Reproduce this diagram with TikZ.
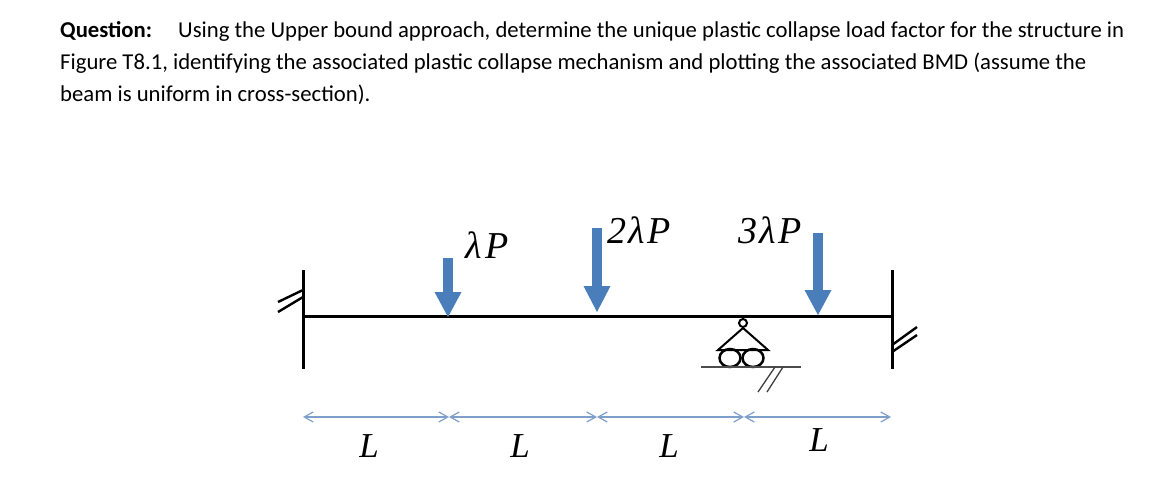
\documentclass[tikz,border=0pt]{standalone}
\usepackage{fontspec}
\setmainfont{Carlito}
\newfontfamily\figfont{Liberation Serif}
\usetikzlibrary{arrows.meta,shapes.geometric}
\definecolor{loadblue}{HTML}{4A7EBB}
\definecolor{dimblue}{HTML}{7F9FCB}
\tikzset{
  x=1pt,y=-1pt,
  qtext/.style={anchor=base west,inner sep=0pt,font=\fontsize{22.7}{27}\selectfont,text=black},
  figlabel/.style={inner sep=0pt,font=\figfont\itshape\fontsize{35}{40}\selectfont},
  loadlabel/.style={inner sep=0pt,anchor=base west,font=\figfont\itshape\fontsize{38}{42}\selectfont},
  beam/.style={line width=3.2pt,black},
  wall/.style={line width=3pt,black},
  wallhatch/.style={line width=2.4pt,black},
  load/.style={draw=none,fill=loadblue},
  dimline/.style={draw=dimblue,line width=1.2pt,{Straight Barb[length=9pt,width=10pt]}-{Straight Barb[length=9pt,width=10pt]}},
  supportline/.style={line width=2pt,black},
  groundline/.style={line width=2pt,black!70},
  groundhatch/.style={line width=1.3pt,black!75},
  roller/.style={draw,ellipse,line width=2.5pt,minimum width=21pt,minimum height=18pt,inner sep=0pt}
}
\newcommand{\loadarrow}[4]{%
  \fill[load] (#1-4.8,#2) -- (#1+4.8,#2) -- (#1+4.8,#3) -- (#1+13.5,#3) -- (#1,#4) -- (#1-13.5,#3) -- (#1-4.8,#3) -- cycle;}
\begin{document}
\begin{tikzpicture}
\useasboundingbox (0,0) rectangle (1156,498);
\fill[white] (0,0) rectangle (1156,498);
% question text
\node[qtext] (q1) at (60,37) {\textbf{Question:}};
\node[qtext] (q2) at (178,37) {Using the Upper bound approach, determine the unique plastic collapse load factor for the structure in};
\node[qtext] (q3) at (60,69) {Figure T8.1, identifying the associated plastic collapse mechanism and plotting the associated BMD (assume the};
\node[qtext] (q4) at (60,101) {beam is uniform in cross-section).};
% points
\coordinate (A) at (303,316.5);
\coordinate (B) at (892,316.5);
\coordinate (At) at (303,270);
\coordinate (Ab) at (303,369);
\coordinate (Bt) at (892,270);
\coordinate (Bb) at (892,369);
\draw[wall] (At) -- (Ab);
\draw[wall] (Bt) -- (Bb);
\draw[beam] (A) -- (B);
% wall hatching
\coordinate (h1a) at (303,290); \coordinate (h1b) at (278,302);
\coordinate (h2a) at (303,297); \coordinate (h2b) at (278,312);
\coordinate (h3a) at (892,345); \coordinate (h3b) at (917,327);
\coordinate (h4a) at (892,352); \coordinate (h4b) at (917,335);
\draw[wallhatch] (h1a) -- (h1b);
\draw[wallhatch] (h2a) -- (h2b);
\draw[wallhatch] (h3a) -- (h3b);
\draw[wallhatch] (h4a) -- (h4b);
% loads
\loadarrow{448}{258}{292}{317}
\loadarrow{597}{228}{286}{312}
\loadarrow{818}{233}{290}{315}
\node[loadlabel] (l1) at (465,258) {λ\kern4pt P};
\node[loadlabel] (l2) at (607,243) {2\kern2pt λ\kern3pt P};
\node[loadlabel] (l3) at (738,243) {3\kern2pt λ\kern3pt P};
% support
\node[draw,circle,line width=2pt,minimum size=8pt,inner sep=0pt] (pin) at (743,323) {};
\coordinate (tl) at (718,350);
\coordinate (tr) at (768,350);
\draw[supportline] (tl) -- (pin.south) -- (tr) -- cycle;
\node[roller] (r1) at (730,358) {};
\node[roller] (r2) at (753,358) {};
\coordinate (g1) at (701,367);
\coordinate (g2) at (801,367);
\draw[groundline] (g1) -- (g2);
\coordinate (gh1a) at (775,367); \coordinate (gh1b) at (758,392);
\coordinate (gh2a) at (783,367); \coordinate (gh2b) at (767,392);
\draw[groundhatch] (gh1a) -- (gh1b);
\draw[groundhatch] (gh2a) -- (gh2b);
% dimensions
\coordinate (d0) at (303,417);
\coordinate (d1) at (449,417);
\coordinate (d2) at (597,417);
\coordinate (d3) at (744,417);
\coordinate (d4) at (891,417);
\draw[dimline] (d0) -- (d1);
\draw[dimline] (d1) -- (d2);
\draw[dimline] (d2) -- (d3);
\draw[dimline] (d3) -- (d4);
\node[figlabel,anchor=base] (L1) at (369,457) {L};
\node[figlabel,anchor=base] (L2) at (520,457) {L};
\node[figlabel,anchor=base] (L3) at (669,457) {L};
\node[figlabel,anchor=base] (L4) at (819,451) {L};
\end{tikzpicture}
\end{document}
